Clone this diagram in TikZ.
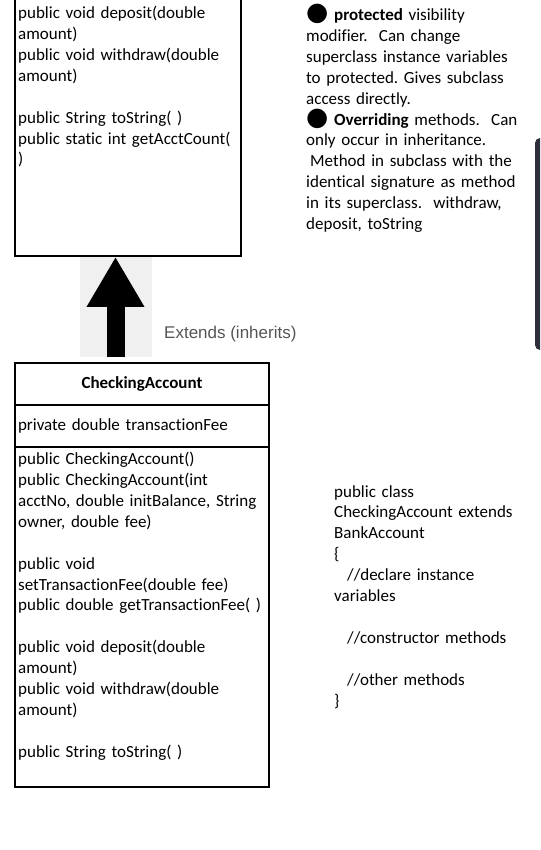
\documentclass[tikz,border=0pt]{standalone}
\usepackage{fontspec}
\setmainfont{Carlito}[Ligatures=NoCommon]
\newfontfamily\arialfont{Liberation Sans}
\newfontfamily\symfont{DejaVu Sans}
\usetikzlibrary{positioning}
\usetikzlibrary{arrows.meta}
\definecolor{extgray}{HTML}{555555}
\definecolor{sidebar}{HTML}{2E2E3C}
\definecolor{shadebg}{HTML}{F0F0F0}
\tikzset{
  classbox/.style={draw=black, line width=1.2pt, inner sep=0pt, outer sep=0pt, minimum width=254pt, font=\fontsize{17}{20.9}\selectfont},
  membertext/.style={align=left, text width=250pt, inner sep=0pt, font=\fontsize{17}{20.9}\selectfont},
}
\newcommand{\blt}{\scalebox{1.5}{\symfont ●}}
\frenchspacing

\begin{document}
\begin{tikzpicture}[x=1pt,y=-1pt]
\useasboundingbox (0,0) rectangle (540,850);
\clip (0,0) rectangle (540,850);

%superclass (cut off at the top)
\node[classbox, minimum width=226pt, minimum height=286pt, anchor=south west] (bank) at (15,256) {};
\node[membertext, anchor=north west] (bankops) at (18,6) {public void deposit(double\\
amount)\\
public void withdraw(double\\
amount)\\[20.9pt]
public String toString( )\\
public static int getAcctCount(\\
)};

%inheritance arrow
\node[fill=shadebg, minimum width=72pt, minimum height=100pt, inner sep=0pt] (shade) at (115.5,307) {};
\draw[line width=18pt, -{Triangle[length=50pt,width=54pt]}] (shade.south) -- (shade.north);
\node[font=\arialfont\fontsize{17}{20}\selectfont, text=extgray, anchor=west, inner sep=0pt] (extlbl) at (164,334) {Extends (inherits)};

%subclass
\node[classbox, minimum height=42pt, anchor=north west] (ckname) at (15,363) {\bfseries CheckingAccount};
\node[classbox, minimum height=42pt, text width=248pt, align=left, below=0pt of ckname] (ckattr) {private double transactionFee};
\node[classbox, minimum height=340pt, below=0pt of ckattr] (ckops) {};
\node[membertext, anchor=north west] (ckopstext) at (18,452) {public CheckingAccount()\\
public CheckingAccount(int\\
acctNo, double initBalance, String\\
owner, double fee)\\[20.9pt]
public void\\
setTransactionFee(double fee)\\
public double getTransactionFee( )\\[20.9pt]
public void deposit(double\\
amount)\\
public void withdraw(double\\
amount)\\[20.9pt]
public String toString( )};

%notes
\node[membertext, text width=230pt, anchor=north west] (notes) at (306,4) {\blt{} \textbf{protected} visibility\\
modifier.~ Can change\\
superclass instance variables\\
to protected. Gives subclass\\
access directly.\\
\blt{} \textbf{Overriding} methods.~ Can\\
only occur in inheritance.\\
\hspace*{4pt}Method in subclass with the\\
identical signature as method\\
in its superclass.~ withdraw,\\
deposit, toString};

%code outline
\node[membertext, text width=195pt, anchor=north west] (code) at (334,485) {public class\\
CheckingAccount extends\\
BankAccount\\
\{\\
\hspace*{13pt}//declare instance\\
variables\\[20.9pt]
\hspace*{13pt}//constructor methods\\[20.9pt]
\hspace*{13pt}//other methods\\
\}};

%side bar at the right edge
\fill[sidebar, rounded corners=5pt] (535,138) rectangle (552,350);

\end{tikzpicture}
\end{document}
